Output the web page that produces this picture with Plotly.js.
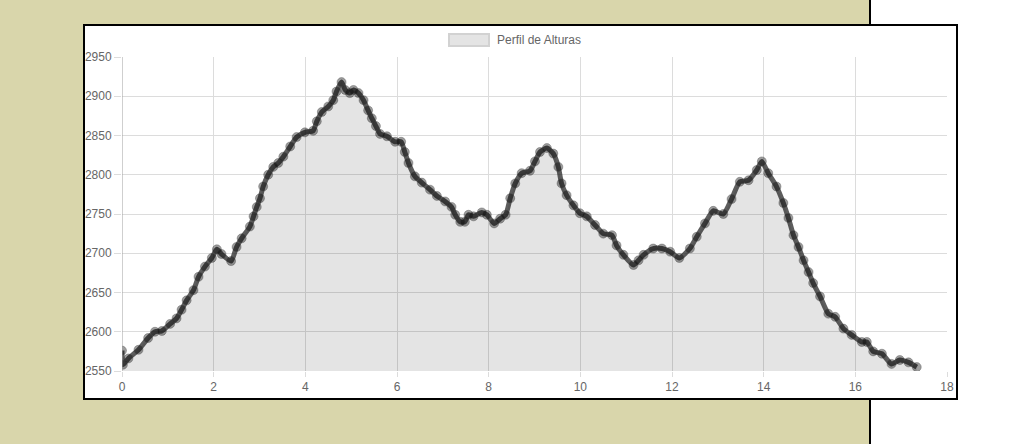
<!DOCTYPE html>
<html>
<head>
<meta charset="utf-8">
<script src="https://cdn.plot.ly/plotly-3.0.1.min.js"></script>
<style>
  html, body { margin: 0; padding: 0; width: 1016px; height: 444px; background: #ffffff; overflow: hidden; }
  #panel { position: absolute; left: 0; top: 0; width: 869px; height: 444px; background: #d9d6ab; border-right: 2px solid #000; }
  #box { position: absolute; left: 83px; top: 24px; width: 875px; height: 376px; box-sizing: border-box; border: 2px solid #000; background: #fff; }
  #chart { position: absolute; left: 73px; top: 26px; width: 883px; height: 372px; }
</style>
</head>
<body>
<div id="panel"></div>
<div id="box"></div>
<div id="chart"></div>
<script>
// Distance (km)
const distanceKm = [
  0.00, 0.02, 0.14, 0.36, 0.57, 0.72, 0.87, 1.05, 1.19, 1.30, 1.41, 1.56, 1.67, 1.81, 1.96,
  2.07, 2.17, 2.38, 2.50, 2.61, 2.79, 2.87, 2.94, 3.01, 3.08, 3.19, 3.30, 3.41, 3.52, 3.67,
  3.81, 3.99, 4.17, 4.25, 4.36, 4.50, 4.61, 4.68, 4.79, 4.87, 4.97, 5.05, 5.16, 5.27, 5.37,
  5.45, 5.54, 5.63, 5.78, 5.96, 6.09, 6.17, 6.25, 6.39, 6.54, 6.72, 6.87, 7.05, 7.19, 7.27,
  7.38, 7.48, 7.56, 7.67, 7.85, 7.96, 8.12, 8.25, 8.37, 8.47, 8.58, 8.72, 8.90, 9.01, 9.12,
  9.27, 9.41, 9.52, 9.59, 9.70, 9.85, 9.99, 10.14, 10.32, 10.50, 10.69, 10.79, 10.94, 11.16,
  11.27, 11.38, 11.59, 11.78, 11.96, 12.16, 12.39, 12.54, 12.72, 12.90, 13.12, 13.30, 13.48,
  13.67, 13.85, 13.96, 14.10, 14.28, 14.43, 14.54, 14.65, 14.76, 14.87, 14.98, 15.08, 15.23,
  15.41, 15.56, 15.74, 15.92, 16.14, 16.25, 16.39, 16.58, 16.79, 16.97, 17.16, 17.34
];
// Elevation (m)
const elevationM = [
  2576, 2558, 2566, 2577, 2592, 2600, 2601, 2610, 2617, 2628, 2640, 2653, 2670, 2683, 2694,
  2705, 2699, 2690, 2708, 2719, 2734, 2747, 2759, 2770, 2785, 2800, 2810, 2815, 2823, 2836,
  2848, 2854, 2856, 2868, 2880, 2887, 2895, 2906, 2918, 2908, 2904, 2908, 2904, 2895, 2882,
  2872, 2862, 2852, 2849, 2842, 2842, 2829, 2815, 2798, 2790, 2781, 2773, 2766, 2759, 2749,
  2740, 2740, 2749, 2747, 2752, 2749, 2738, 2744, 2749, 2770, 2789, 2802, 2805, 2817, 2829,
  2834, 2827, 2810, 2789, 2774, 2761, 2751, 2747, 2736, 2725, 2723, 2710, 2698, 2685,
  2691, 2698, 2706, 2706, 2702, 2694, 2706, 2721, 2738, 2754, 2750, 2769, 2791,
  2793, 2806, 2817, 2802, 2785, 2764, 2745, 2723, 2708, 2691, 2676, 2662, 2645,
  2623, 2619, 2604, 2596, 2587, 2587, 2575, 2572, 2559, 2564, 2561, 2555
];
const seriesName = "Perfil de Alturas";
const xTicks = [0, 2, 4, 6, 8, 10, 12, 14, 16, 18];
const yTicks = [2550, 2600, 2650, 2700, 2750, 2800, 2850, 2900, 2950];

const trace = {
  x: distanceKm,
  y: elevationM,
  type: 'scatter',
  mode: 'lines+markers',
  name: seriesName,
  fill: 'tozeroy',
  fillcolor: 'rgba(0,0,0,0.105)',
  line: { color: 'rgba(30,30,30,0.72)', width: 5, shape: 'spline', smoothing: 0.6 },
  marker: { color: 'rgba(0,0,0,0.38)', size: 9, line: { width: 1, color: 'rgba(60,60,60,0.35)' } },
  showlegend: false,
  hoverinfo: 'skip'
};

const font = { family: 'Liberation Sans, Arial, sans-serif', size: 12, color: '#666666' };

const layout = {
  width: 883, height: 372,
  margin: { l: 49, r: 9, t: 31, b: 27, pad: 0 },
  paper_bgcolor: 'rgba(0,0,0,0)',
  plot_bgcolor: '#ffffff',
  font: font,
  showlegend: false,
  xaxis: {
    range: [0, 18], tickvals: xTicks, ticktext: xTicks.map(String),
    showgrid: true, gridcolor: '#dcdcdc', gridwidth: 1,
    zeroline: false, showline: false,
    ticks: 'outside', ticklen: 5, tickcolor: '#dcdcdc',
    tickfont: font, fixedrange: true
  },
  yaxis: {
    range: [2550, 2950], tickvals: yTicks, ticktext: yTicks.map(String),
    showgrid: true, gridcolor: '#dcdcdc', gridwidth: 1,
    zeroline: false, showline: false,
    ticks: 'outside', ticklen: 7, tickcolor: '#dcdcdc',
    tickfont: font, fixedrange: true
  },
  shapes: [
    { type: 'line', xref: 'x', yref: 'paper', x0: 0, x1: 0, y0: 0, y1: 1,
      line: { color: '#a0a0a0', width: 1 } },
    { type: 'rect', xref: 'paper', yref: 'paper',
      x0: (449 - 122) / 825, x1: (489 - 122) / 825,
      y0: (371 - 46) / 314, y1: (371 - 34) / 314,
      fillcolor: '#e4e4e4', line: { color: '#d2d2d2', width: 2 } }
  ],
  annotations: [
    { xref: 'paper', yref: 'paper', x: (495 - 122) / 825, y: (371 - 40) / 314,
      xanchor: 'left', yanchor: 'middle', showarrow: false,
      text: seriesName, font: font }
  ]
};

Plotly.newPlot('chart', [trace], layout, { displayModeBar: false, staticPlot: true });
</script>
</body>
</html>
